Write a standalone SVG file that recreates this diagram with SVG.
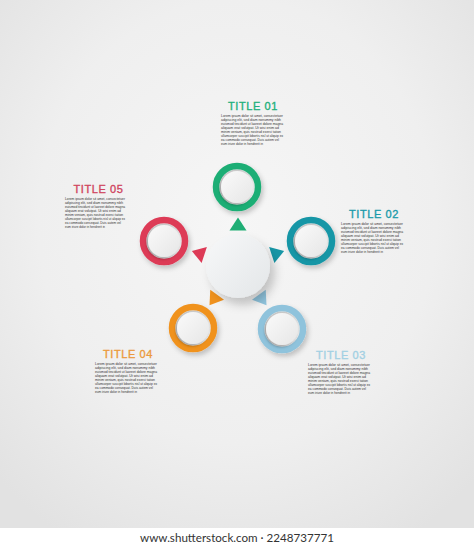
<svg xmlns="http://www.w3.org/2000/svg" width="474" height="546" viewBox="0 0 474 546">
<defs>
<radialGradient id="bg" cx="0.5" cy="0.42" r="0.7">
<stop offset="0" stop-color="#f6f6f6"/>
<stop offset="0.6" stop-color="#efefef"/>
<stop offset="1" stop-color="#e2e2e2"/>
</radialGradient>
<linearGradient id="inner" x1="0" y1="0" x2="1" y2="1">
<stop offset="0" stop-color="#fafafa"/>
<stop offset="1" stop-color="#e6e6e6"/>
</linearGradient>
<linearGradient id="centerG" x1="0" y1="0" x2="1" y2="1">
<stop offset="0" stop-color="#f7f8f9"/>
<stop offset="1" stop-color="#e3e6e8"/>
</linearGradient>
<filter id="sh" x="-50%" y="-50%" width="200%" height="200%">
<feDropShadow dx="2" dy="3" stdDeviation="2.5" flood-color="#000" flood-opacity="0.22"/>
</filter>
<filter id="shIn" x="-50%" y="-50%" width="200%" height="200%">
<feDropShadow dx="-1" dy="2" stdDeviation="1.5" flood-color="#000" flood-opacity="0.3"/>
</filter>
<filter id="shC" x="-60%" y="-60%" width="220%" height="220%">
<feDropShadow dx="5" dy="7" stdDeviation="5" flood-color="#000" flood-opacity="0.2"/>
</filter>
<polygon id="tri" points="0,-7.5 8.5,5.5 -8.5,5.5"/>
</defs>
<style>
.title{font-family:"Liberation Sans",Arial,sans-serif;font-size:11px;letter-spacing:0.6px;stroke-width:0.35}
.body{font-family:"Liberation Sans",Arial,sans-serif;font-size:3.9px;fill:#333333}
.ring{stroke-width:6.5;fill:none}
.inner{fill:url(#inner);filter:url(#shIn)}
</style>
<rect x="0" y="0" width="474" height="528" fill="url(#bg)"/>
<rect x="0" y="528" width="474" height="18" fill="#ffffff"/>

<g id="connectors">
<use href="#tri" fill="#1fae75" transform="translate(238,266) rotate(0) translate(0,-41)"/>
<use href="#tri" fill="#1796a6" transform="translate(238,266) rotate(72) translate(0,-41)"/>
<use href="#tri" fill="#8fc3dc" transform="translate(238,266) rotate(144) translate(0,-41)"/>
<use href="#tri" fill="#f0921e" transform="translate(238,266) rotate(216) translate(0,-41)"/>
<use href="#tri" fill="#dd3a56" transform="translate(238,266) rotate(288) translate(0,-41)"/>
</g>

<g id="center">
<circle cx="238" cy="266" r="32" fill="url(#centerG)" filter="url(#shC)"/>
</g>

<g id="node1">
<circle cx="237" cy="187" r="21" class="ring" stroke="#1fae75" filter="url(#sh)"/>
<circle cx="237" cy="187" r="16" class="inner"/>
</g>
<g id="node2">
<circle cx="311" cy="241" r="21" class="ring" stroke="#1796a6" filter="url(#sh)"/>
<circle cx="311" cy="241" r="16" class="inner"/>
</g>
<g id="node3">
<circle cx="282" cy="329" r="21" class="ring" stroke="#8fc3dc" filter="url(#sh)"/>
<circle cx="282" cy="329" r="16" class="inner"/>
</g>
<g id="node4">
<circle cx="193" cy="328" r="21" class="ring" stroke="#f0921e" filter="url(#sh)"/>
<circle cx="193" cy="328" r="16" class="inner"/>
</g>
<g id="node5">
<circle cx="164" cy="241" r="21" class="ring" stroke="#dd3a56" filter="url(#sh)"/>
<circle cx="164" cy="241" r="16" class="inner"/>
</g>

<g id="text1">
<text class="title" x="253" y="109.5" text-anchor="middle" fill="#22b07c" stroke="#22b07c">TITLE 01</text>
<text class="body" x="221" y="116.5" textLength="62" lengthAdjust="spacingAndGlyphs">Lorem ipsum dolor sit amet, consectetuer</text>
<text class="body" x="221" y="120.5" textLength="60" lengthAdjust="spacingAndGlyphs">adipiscing elit, sed diam nonummy nibh</text>
<text class="body" x="221" y="124.5" textLength="62" lengthAdjust="spacingAndGlyphs">euismod tincidunt ut laoreet dolore magna</text>
<text class="body" x="221" y="128.5" textLength="58" lengthAdjust="spacingAndGlyphs">aliquam erat volutpat. Ut wisi enim ad</text>
<text class="body" x="221" y="132.5" textLength="60" lengthAdjust="spacingAndGlyphs">minim veniam, quis nostrud exerci tation</text>
<text class="body" x="221" y="136.5" textLength="62" lengthAdjust="spacingAndGlyphs">ullamcorper suscipit lobortis nisl ut aliquip ex</text>
<text class="body" x="221" y="140.5" textLength="58" lengthAdjust="spacingAndGlyphs">ea commodo consequat. Duis autem vel</text>
<text class="body" x="221" y="144.5" textLength="42" lengthAdjust="spacingAndGlyphs">eum iriure dolor in hendrerit in</text>
</g>

<g id="text5">
<text class="title" x="98.5" y="192.5" text-anchor="middle" fill="#d04560" stroke="#d04560">TITLE 05</text>
<text class="body" x="65" y="199.5" textLength="60" lengthAdjust="spacingAndGlyphs">Lorem ipsum dolor sit amet, consectetuer</text>
<text class="body" x="65" y="203.5" textLength="58" lengthAdjust="spacingAndGlyphs">adipiscing elit, sed diam nonummy nibh</text>
<text class="body" x="65" y="207.5" textLength="60" lengthAdjust="spacingAndGlyphs">euismod tincidunt ut laoreet dolore magna</text>
<text class="body" x="65" y="211.5" textLength="56" lengthAdjust="spacingAndGlyphs">aliquam erat volutpat. Ut wisi enim ad</text>
<text class="body" x="65" y="215.5" textLength="58" lengthAdjust="spacingAndGlyphs">minim veniam, quis nostrud exerci tation</text>
<text class="body" x="65" y="219.5" textLength="60" lengthAdjust="spacingAndGlyphs">ullamcorper suscipit lobortis nisl ut aliquip ex</text>
<text class="body" x="65" y="223.5" textLength="56" lengthAdjust="spacingAndGlyphs">ea commodo consequat. Duis autem vel</text>
<text class="body" x="65" y="227.5" textLength="40" lengthAdjust="spacingAndGlyphs">eum iriure dolor in hendrerit in</text>
</g>

<g id="text2">
<text class="title" x="374" y="218" text-anchor="middle" fill="#1a9aaa" stroke="#1a9aaa">TITLE 02</text>
<text class="body" x="341" y="225" textLength="62" lengthAdjust="spacingAndGlyphs">Lorem ipsum dolor sit amet, consectetuer</text>
<text class="body" x="341" y="229" textLength="60" lengthAdjust="spacingAndGlyphs">adipiscing elit, sed diam nonummy nibh</text>
<text class="body" x="341" y="233" textLength="62" lengthAdjust="spacingAndGlyphs">euismod tincidunt ut laoreet dolore magna</text>
<text class="body" x="341" y="237" textLength="58" lengthAdjust="spacingAndGlyphs">aliquam erat volutpat. Ut wisi enim ad</text>
<text class="body" x="341" y="241" textLength="60" lengthAdjust="spacingAndGlyphs">minim veniam, quis nostrud exerci tation</text>
<text class="body" x="341" y="245" textLength="62" lengthAdjust="spacingAndGlyphs">ullamcorper suscipit lobortis nisl ut aliquip ex</text>
<text class="body" x="341" y="249" textLength="58" lengthAdjust="spacingAndGlyphs">ea commodo consequat. Duis autem vel</text>
<text class="body" x="341" y="253" textLength="42" lengthAdjust="spacingAndGlyphs">eum iriure dolor in hendrerit in</text>
</g>

<g id="text4">
<text class="title" x="128" y="358" text-anchor="middle" fill="#eb9a3c" stroke="#eb9a3c">TITLE 04</text>
<text class="body" x="95" y="365" textLength="62" lengthAdjust="spacingAndGlyphs">Lorem ipsum dolor sit amet, consectetuer</text>
<text class="body" x="95" y="369" textLength="60" lengthAdjust="spacingAndGlyphs">adipiscing elit, sed diam nonummy nibh</text>
<text class="body" x="95" y="373" textLength="62" lengthAdjust="spacingAndGlyphs">euismod tincidunt ut laoreet dolore magna</text>
<text class="body" x="95" y="377" textLength="58" lengthAdjust="spacingAndGlyphs">aliquam erat volutpat. Ut wisi enim ad</text>
<text class="body" x="95" y="381" textLength="60" lengthAdjust="spacingAndGlyphs">minim veniam, quis nostrud exerci tation</text>
<text class="body" x="95" y="385" textLength="62" lengthAdjust="spacingAndGlyphs">ullamcorper suscipit lobortis nisl ut aliquip ex</text>
<text class="body" x="95" y="389" textLength="58" lengthAdjust="spacingAndGlyphs">ea commodo consequat. Duis autem vel</text>
<text class="body" x="95" y="393" textLength="42" lengthAdjust="spacingAndGlyphs">eum iriure dolor in hendrerit in</text>
</g>

<g id="text3">
<text class="title" x="341" y="359" text-anchor="middle" fill="#a3d0e3" stroke="#a3d0e3">TITLE 03</text>
<text class="body" x="308" y="366" textLength="62" lengthAdjust="spacingAndGlyphs">Lorem ipsum dolor sit amet, consectetuer</text>
<text class="body" x="308" y="370" textLength="60" lengthAdjust="spacingAndGlyphs">adipiscing elit, sed diam nonummy nibh</text>
<text class="body" x="308" y="374" textLength="62" lengthAdjust="spacingAndGlyphs">euismod tincidunt ut laoreet dolore magna</text>
<text class="body" x="308" y="378" textLength="58" lengthAdjust="spacingAndGlyphs">aliquam erat volutpat. Ut wisi enim ad</text>
<text class="body" x="308" y="382" textLength="60" lengthAdjust="spacingAndGlyphs">minim veniam, quis nostrud exerci tation</text>
<text class="body" x="308" y="386" textLength="62" lengthAdjust="spacingAndGlyphs">ullamcorper suscipit lobortis nisl ut aliquip ex</text>
<text class="body" x="308" y="390" textLength="58" lengthAdjust="spacingAndGlyphs">ea commodo consequat. Duis autem vel</text>
<text class="body" x="308" y="394" textLength="42" lengthAdjust="spacingAndGlyphs">eum iriure dolor in hendrerit in</text>
</g>

<text x="237" y="541.5" text-anchor="middle" font-family="Lato,'Liberation Sans',sans-serif" font-size="12" fill="#333333" textLength="194" lengthAdjust="spacingAndGlyphs">www.shutterstock.com · 2248737771</text>
</svg>
